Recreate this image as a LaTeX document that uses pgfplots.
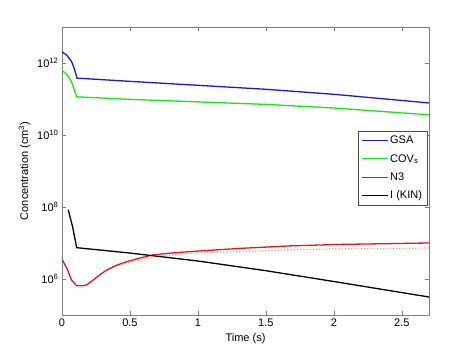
\documentclass[border=0pt]{standalone}
\usepackage{fontspec}
\setmainfont{Liberation Sans}
\usepackage{pgfplots}
\pgfplotsset{compat=1.18}
\definecolor{mblue}{rgb}{0.1,0.1,0.85}
\definecolor{mgreen}{rgb}{0.1,0.9,0.1}
\definecolor{mred}{rgb}{0.9,0.1,0.1}
\begin{document}
\begin{tikzpicture}
\useasboundingbox (0,0) rectangle (474pt,355pt);
\begin{axis}[
  at={(62pt,40pt)}, anchor=south west,
  scale only axis, width=367pt, height=288pt,
  ymode=log, xmin=0, xmax=2.7, ymin=1e5, ymax=1e13,
  font=\fontsize{11}{13}\selectfont,
  axis line style={gray},
  tick style={gray, line width=0.5pt},
  tick align=inside, major tick length=4pt,
  xtick={0,0.5,1,1.5,2,2.5},
  xticklabels={0,0.5,1,1.5,2,2.5},
  ytick={1e6,1e8,1e10,1e12},
  yticklabels={10\textsuperscript{6},10\textsuperscript{8},10\textsuperscript{10},10\textsuperscript{12}},
  minor tick num=0,
  xlabel={Time (s)},
  ylabel={Concentration (cm\textsuperscript{3})},
  legend style={at={(rel axis cs:0.995,0.639)}, anchor=north east, draw=black!70, font=\fontsize{11}{13}\selectfont, row sep=5pt, inner sep=3pt},
  legend cell align=left,
  legend image code/.code={\draw[#1] (0pt,0pt) -- (26pt,0pt);},
]
\addlegendimage{mblue, line width=1pt}
\addlegendentry{GSA}
\addlegendimage{mgreen, line width=1pt}
\addlegendentry{COV\textsubscript{s}}
\addlegendimage{mred, line width=1pt}
\addlegendentry{N3}
\addlegendimage{black, line width=1pt}
\addlegendentry{I (KIN)}
\addplot[mblue, line width=1.3pt, forget plot] coordinates {(0,2.04e12) (0.035,1.66e12) (0.07,1.10e12) (0.09,7.08e11) (0.11,3.80e11) (0.5,3.09e11) (1.0,2.40e11) (1.5,1.86e11) (2.0,1.35e11) (2.7,7.76e10)};
\addplot[mgreen, line width=1.3pt, forget plot] coordinates {(0,6.17e11) (0.035,4.90e11) (0.07,3.02e11) (0.108,1.15e11) (0.5,9.77e10) (1.0,8.32e10) (1.5,7.08e10) (2.0,5.62e10) (2.7,3.63e10)};
\addplot[mred, opacity=0.45, dotted, line width=1.2pt, forget plot] coordinates {(0.33,1.78e6) (0.40,2.29e6) (0.475,2.75e6) (0.57,3.39e6) (0.67,3.98e6) (0.8,4.57e6) (0.94,5.13e6) (1.1,5.50e6) (1.31,5.75e6) (1.68,6.46e6) (2.04,6.92e6) (2.7,7.24e6)};
\addplot[mred, line width=1.3pt, forget plot] coordinates {(0,3.55e6) (0.035,2.00e6) (0.07,9.33e5) (0.108,6.46e5) (0.14,6.46e5) (0.18,6.76e5) (0.23,9.33e5) (0.28,1.32e6) (0.33,1.78e6) (0.40,2.40e6) (0.475,3.02e6) (0.57,3.80e6) (0.67,4.68e6) (0.8,5.25e6) (0.94,5.75e6) (1.1,6.31e6) (1.31,7.08e6) (1.68,8.32e6) (2.04,9.12e6) (2.7,1.0e7)};
\addplot[black, line width=1.3pt, forget plot] coordinates {(0.046,8.32e7) (0.078,2.82e7) (0.108,7.41e6) (0.5,5.25e6) (1.0,3.16e6) (1.5,1.70e6) (2.0,8.51e5) (2.7,3.16e5)};
\end{axis}
\end{tikzpicture}
\end{document}
